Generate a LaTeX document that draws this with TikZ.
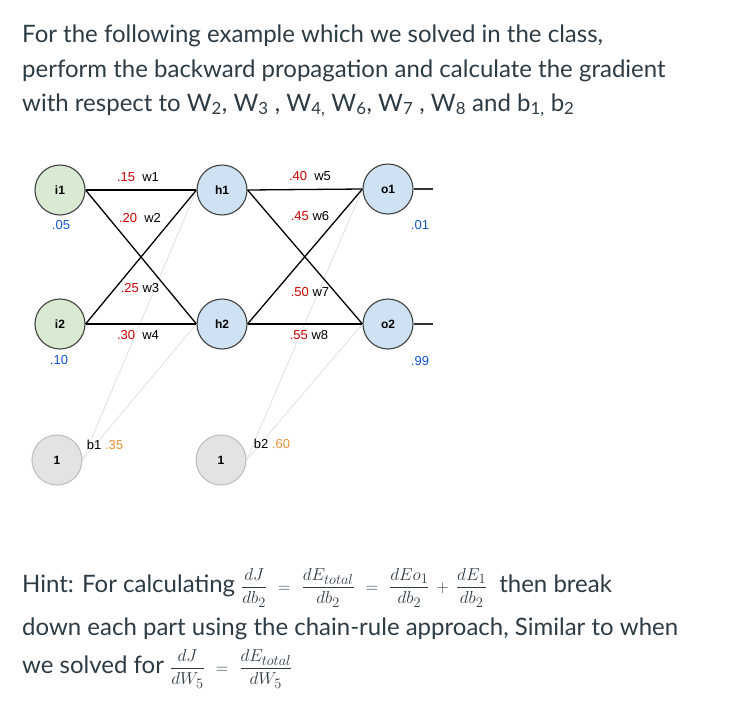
\documentclass[tikz,border=0pt]{standalone}
\usepackage{fontspec}
\setmainfont{Lato}
\newfontfamily\arl{Liberation Sans}
\usepackage{amsmath}
\definecolor{tx}{HTML}{2D3B45}
\definecolor{gfill}{HTML}{D9EAD3}
\definecolor{bfill}{HTML}{CFE2F3}
\definecolor{nfill}{HTML}{E3E3E3}
\definecolor{rr}{HTML}{CC0000}
\definecolor{bb}{HTML}{1155CC}
\definecolor{oo}{HTML}{E69138}
\newcommand{\mfr}[2]{{\fontsize{19}{22}\selectfont$\dfrac{#1}{#2}$}}
\newcommand{\mop}[1]{\hspace{11pt}{\fontsize{19}{22}\selectfont$#1$}\hspace{11pt}}
\begin{document}
\begin{tikzpicture}[x=1pt,y=-1pt,
  neu/.style={circle,draw=black!75,line width=1.1pt,minimum size=50pt,inner sep=0pt,font=\arl\bfseries\fontsize{12}{13}\selectfont},
  bia/.style={circle,draw=black!25,fill=nfill,line width=1.1pt,minimum size=50pt,inner sep=0pt,font=\arl\bfseries\fontsize{12}{13}\selectfont},
  wl/.style={font=\arl\fontsize{13}{14}\selectfont,inner sep=0pt},
  conn/.style={line width=1.3pt,black},
  bconn/.style={line width=0.8pt,black!12},
  para/.style={anchor=base west,inner sep=0pt,text=tx,font=\fontsize{24}{28}\selectfont}]
\useasboundingbox (0,0) rectangle (749,705);
\node[para] (t1) at (22,42) {For the following example which we solved in the class,};
\node[para] (t2) at (22,77) {perform the backward propagation and calculate the gradient};
\node[para] (t3) at (22,111) {with respect to W\textsubscript{2}, W\textsubscript{3} , W\textsubscript{4,} W\textsubscript{6}, W\textsubscript{7} , W\textsubscript{8} and b\textsubscript{1,} b\textsubscript{2}};
% nodes
\node[neu,fill=gfill] (i1) at (60,190) {i1};
\node[neu,fill=gfill] (i2) at (60,324) {i2};
\node[neu,fill=bfill] (h1) at (222,190) {h1};
\node[neu,fill=bfill] (h2) at (222,324) {h2};
\node[neu,fill=bfill] (o1) at (388,189) {o1};
\node[neu,fill=bfill] (o2) at (388,324) {o2};
\node[bia] (b1) at (57,460) {1};
\node[bia] (b2) at (221,460) {1};
\coordinate (e1) at (433,189);
\coordinate (e2) at (433,324);
% bias connectors
\draw[bconn] (b1.east) -- (h1.west);
\draw[bconn] (b1.east) -- (h2.west);
\draw[bconn] (b2.east) -- (o1.west);
\draw[bconn] (b2.east) -- (o2.west);
% main connectors
\draw[conn] (i1.east) -- (h1.west);
\draw[conn] (i1.east) -- (h2.west);
\draw[conn] (i2.east) -- (h1.west);
\draw[conn] (i2.east) -- (h2.west);
\draw[conn] (h1.east) -- (o1.west);
\draw[conn] (h1.east) -- (o2.west);
\draw[conn] (h2.east) -- (o1.west);
\draw[conn] (h2.east) -- (o2.west);
\draw[conn,black!80] (o1.east) -- (e1);
\draw[conn,black!80] (o2.east) -- (e2);
% labels
\node[wl] (l1) at (138,177) {\textcolor{rr}{.15}\ \ w1};
\node[wl] (l2) at (140,218) {\textcolor{rr}{.20}\ \ w2};
\node[wl] (l3) at (140,288) {\textcolor{rr}{.25} w3};
\node[wl] (l4) at (138,335) {\textcolor{rr}{.30}\ \ w4};
\node[wl] (l5) at (310,176) {\textcolor{rr}{.40}\ \ w5};
\node[wl] (l6) at (310,216) {\textcolor{rr}{.45}\ w6};
\node[wl] (l7) at (310,292) {\textcolor{rr}{.50} w7};
\node[wl] (l8) at (309,335) {\textcolor{rr}{.55}\ w8};
\node[wl,text=bb] (v1) at (61,225) {.05};
\node[wl,text=bb] (v2) at (59,360) {.10};
\node[wl,text=bb] (v3) at (420,225) {.01};
\node[wl,text=bb] (v4) at (420,361) {.99};
\node[wl] (bl1) at (105,445) {b1 \textcolor{oo}{.35}};
\node[wl] (bl2) at (272,444) {b2 \textcolor{oo}{.60}};
% hint
\node[para] (h1t) at (22,592) {Hint: For calculating \mfr{dJ}{db_2}\mop{=}\mfr{dE_{total}}{db_2}\mop{=}\mfr{dEo_1}{db_2}\hspace{-4pt}\mop{+}\hspace{-4pt}\mfr{dE_1}{db_2}\hspace{12pt}then break};
\node[para] (h2t) at (22,635) {down each part using the chain-rule approach, Similar to when};
\node[para] (h3t) at (22,673) {we solved for \mfr{dJ}{dW_5}\mop{=}\mfr{dE_{total}}{dW_5}};
\end{tikzpicture}
\end{document}
